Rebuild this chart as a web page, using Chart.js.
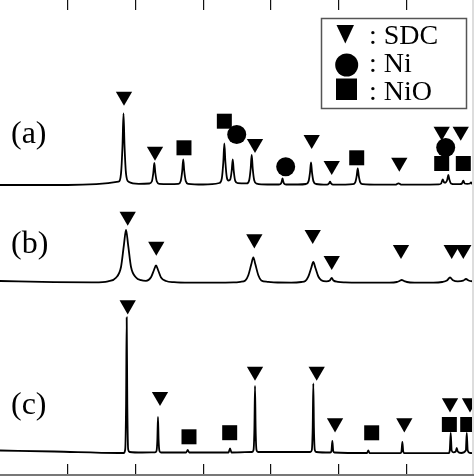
<!DOCTYPE html>
<html>
<head>
<meta charset="utf-8">
<script src="https://cdn.jsdelivr.net/npm/chart.js@4.4.1/dist/chart.umd.min.js"></script>
<style>
  html, body { margin: 0; padding: 0; background: #fff; }
  #wrap { width: 474px; height: 476px; }
</style>
</head>
<body>
<div id="wrap"><canvas id="grafica" width="474" height="476"></canvas></div>
<script>
// 2theta (deg) vs intensity above each pattern's own baseline (a.u.)
const tickValues = [20, 30, 40, 50, 60, 70]
const panelLabels = ['(a)', '(b)', '(c)']
const phaseLabels = [': SDC', ': Ni', ': NiO']

const traceA = [[10,0],[20,0],[27.50,3.3],[27.87,11.4],[28.09,39],[28.24,71.5],[28.39,39],[28.61,11.4],[28.98,3.3],[30.5,1.2],
  [32.05,1.5],[32.42,3.5],[32.64,12],[32.79,22],[32.94,12],[33.16,3.5],[33.53,1.2],[35,0.8],
  [36.32,1.2],[36.69,4.1],[36.91,14],[37.06,25.7],[37.21,14],[37.43,4.1],[37.80,1.2],[40,0.5],
  [42.39,2],[42.76,6.7],[42.98,23],[43.13,41.7],[43.28,23.5],[43.50,7.5],[43.75,4.5],[44.00,5.5],[44.22,14.5],[44.37,25.7],[44.52,14],[44.74,4.1],[45.11,1.8],
  [46.43,1.6],[46.80,4.8],[47.02,16.5],[47.17,30],[47.32,16.5],[47.54,4.8],[47.91,1.4],[49.5,0.5],
  [51.20,0.5],[51.50,1.5],[51.62,3.7],[51.72,6.7],[51.82,3.7],[51.94,1.5],[52.24,0.5],[54,0.5],
  [55.19,1],[55.56,3.6],[55.78,12.4],[55.93,22.5],[56.08,12.4],[56.30,3.6],[56.67,1],
  [58.30,0.3],[58.59,1.6],[58.74,3.3],[58.89,1.6],[59.18,0.3],[61,0.4],
  [62.09,0.8],[62.46,2.7],[62.68,9.2],[62.83,16.7],[62.98,9.2],[63.20,2.7],[63.57,0.8],[66,0.3],
  [68.40,0.3],[68.85,1.7],[69.30,0.3],[72,0.3],
  [74.80,0.6],[75.15,1.5],[75.38,5.7],[75.60,2.5],[75.85,2.5],[76.06,5.5],[76.21,10],[76.36,5.5],[76.60,1.6],[77.20,0.8],
  [77.90,0.8],[78.22,1.5],[78.42,4.3],[78.62,1.5],[79.00,1.2],[79.40,1.5],[79.56,2.5],[79.75,1.2],[80,1]]

const traceB = [[10,2],[18,0.8],[24,0.6],[25.95,1.7],[27.13,5.2],[27.87,16],[28.31,38.7],[28.61,53],[28.91,38.7],[29.35,16],[30.09,5.5],[30.83,2.8],
  [31.56,2.2],[32.30,5.7],[32.74,13],[33.04,17.5],[33.34,13],[33.78,5.5],[34.52,2],[35.7,0.8],[38,0.3],
  [44.5,0.6],[45.5,1.2],[46.23,2.5],[46.67,7.7],[47.11,18.7],[47.41,25.6],[47.71,18.7],[48.15,7.7],[48.59,2.5],[49.5,1.2],[51,0.5],
  [53,0.4],[54.5,1.0],[55.09,2],[55.53,6.3],[55.97,15.3],[56.27,21],[56.57,15.3],[57.01,6.5],[57.45,2.8],[58.2,1.6],
  [58.70,2.5],[58.99,5],[59.25,2.5],[59.9,1.2],[61,0.6],[63,0.3],
  [67.5,0.4],[68.6,1],[69.0,2],[69.33,3],[69.66,2],[70.1,1],[71.3,0.4],
  [74,0.3],[75.3,1],[76.0,2.5],[76.46,5.5],[76.9,2.7],[77.6,1.6],[78.4,2.3],[78.82,4],[79.2,2.5],[80,1.5]]

const traceC = [[10,3],[18,2],[27.5,0.5],[28.27,0.5],[28.49,4],[28.62,50],[28.71,136],[28.80,50],[28.93,4],[29.15,1.5],[31,1],
  [32.89,1.2],[33.11,2.5],[33.24,14],[33.33,36.5],[33.42,14],[33.55,2.5],[33.77,1],
  [37.5,1],[37.72,3.5],[37.94,1],[43.75,1],[43.97,5],[44.19,1],
  [47.22,1.5],[47.44,3.5],[47.57,25],[47.66,67.5],[47.75,25],[47.88,3.5],[48.10,1.5],
  [55.83,1.5],[56.05,3.5],[56.18,26],[56.27,70],[56.36,26],[56.49,3.5],[56.71,1.5],
  [58.78,1],[58.95,2.5],[59.08,12.5],[59.21,2.5],[59.38,1],
  [64.2,0.5],[64.39,3],[64.58,0.5],[69.12,0.3],[69.29,2],[69.42,11.5],[69.55,2],[69.72,0.3],
  [76.25,0.3],[76.42,3],[76.56,20.5],[76.70,3],[76.95,1.2],[77.30,2],[77.45,5.7],[77.60,2],[78.10,0.5],
  [78.79,3],[78.93,20.5],[79.07,3],[79.40,0.5],[80,0.3]]

// phase markers: [2theta, height above baseline]
const sdcA = [[28.31,88.6],[32.89,33.6],[47.66,41.3],[56.03,45.3],[58.99,19.3],[68.97,22.6],[75.23,53.6],[78.04,53.6]]
const niA  = [[44.96,50.5],[52.19,18.3],[75.82,37.5]]
const nioA = [[37.17,37.2],[43.13,63.8],[62.68,27.2],[75.23,21.5],[78.42,21.5]]
const sdcB = [[28.86,66.6],[33.08,36.6],[47.56,44],[56.18,48.3],[58.99,22.3],[69.22,33.3],[76.71,33.3],[78.42,33.3]]
const sdcC = [[28.86,148.5],[33.63,56.8],[47.66,82.1],[56.77,82.1],[59.48,30.5],[69.71,30.5],[76.46,50.5],[79.41,50.5]]
const nioC = [[37.91,16.7],[43.92,20.8],[64.89,20.7],[76.36,29],[79.07,29]]

// vertical stacking of the three patterns
const offsets = [291, 193, 22.5]

const graph = document.querySelector("#grafica");

function shift(arr, off){
	return arr.map(p => ({x: p[0], y: p[1] + off}));
}

function traceSet(arr, off){
	return {
		data: shift(arr, off),
		showLine: true,
		borderColor: '#000',
		borderWidth: 1.8,
		pointRadius: 0,
		cubicInterpolationMode: 'monotone',
		order: 2
	};
}

function markerSet(arr, off, kind){
	const ds = {
		data: shift(arr, off),
		showLine: false,
		backgroundColor: '#000',
		borderWidth: 0,
		order: 1
	};
	if (kind == 'sdc') { ds.pointStyle = 'triangle'; ds.pointRotation = 180; ds.pointRadius = 9.4; }
	if (kind == 'ni')  { ds.pointStyle = 'circle'; ds.pointRadius = 9.5; }
	if (kind == 'nio') { ds.pointStyle = 'rect'; ds.pointRadius = 10.6; }
	return ds;
}

const labelY = [143, 253, 414]

const decor = {
	id: 'decor',
	afterDraw(chart){
		const ctx = chart.ctx;
		ctx.save();
		// bottom frame line
		ctx.fillStyle = '#777';
		ctx.fillRect(0, 474, 474, 2);
		ctx.fillStyle = '#ddd';
		ctx.fillRect(472, 0, 2, 474);

		ctx.fillStyle = '#000';
		ctx.font = '32px "Liberation Serif"';
		ctx.textBaseline = 'alphabetic';
		panelLabels.forEach((t, i) => ctx.fillText(t, 11, labelY[i]));

		// legend box
		ctx.strokeStyle = '#555';
		ctx.lineWidth = 1.5;
		ctx.fillStyle = '#fff';
		ctx.fillRect(321.5, 18.5, 145, 90);
		ctx.strokeRect(321.5, 18.5, 145, 90);

		ctx.fillStyle = '#000';
		ctx.beginPath();
		ctx.moveTo(336.5, 25); ctx.lineTo(354, 25); ctx.lineTo(345.3, 43.5); ctx.closePath();
		ctx.fill();
		ctx.beginPath();
		ctx.arc(346.7, 65, 11.5, 0, Math.PI * 2);
		ctx.fill();
		ctx.fillRect(336, 78.5, 21, 21.5);

		ctx.font = '28px "Liberation Serif"';
		const ly = [44, 72, 100];
		phaseLabels.forEach((t, i) => ctx.fillText(t, 369, ly[i]));
		ctx.restore();
	}
};

const gridOpts = {
	drawOnChartArea: false,
	drawTicks: true,
	tickLength: 10,
	color: '#111',
	lineWidth: 1.2
};

const config = {
	type: 'scatter',
	data: {
		datasets: [
			traceSet(traceA, offsets[0]),
			traceSet(traceB, offsets[1]),
			traceSet(traceC, offsets[2]),
			markerSet(sdcA, offsets[0], 'sdc'),
			markerSet(niA, offsets[0], 'ni'),
			markerSet(nioA, offsets[0], 'nio'),
			markerSet(sdcB, offsets[1], 'sdc'),
			markerSet(sdcC, offsets[2], 'sdc'),
			markerSet(nioC, offsets[2], 'nio')
		]
	},
	options: {
		responsive: false,
		animation: false,
		devicePixelRatio: 1,
		layout: { autoPadding: false, padding: { left: 0, right: 0, top: 0, bottom: 2 } },
		plugins: { legend: { display: false }, tooltip: { enabled: false } },
		scales: {
			x: {
				type: 'linear', position: 'bottom', min: 10, max: 80,
				afterBuildTicks: s => { s.ticks = tickValues.map(v => ({value: v})); },
				grid: gridOpts,
				border: { display: false },
				ticks: { display: false }
			},
			xTop: {
				type: 'linear', position: 'top', min: 10, max: 80,
				afterBuildTicks: s => { s.ticks = tickValues.map(v => ({value: v})); },
				grid: gridOpts,
				border: { display: false },
				ticks: { display: false }
			},
			y: { display: false, min: 12, max: 466 }
		}
	},
	plugins: [decor]
};
new Chart(graph, config);
</script>
</body>
</html>
